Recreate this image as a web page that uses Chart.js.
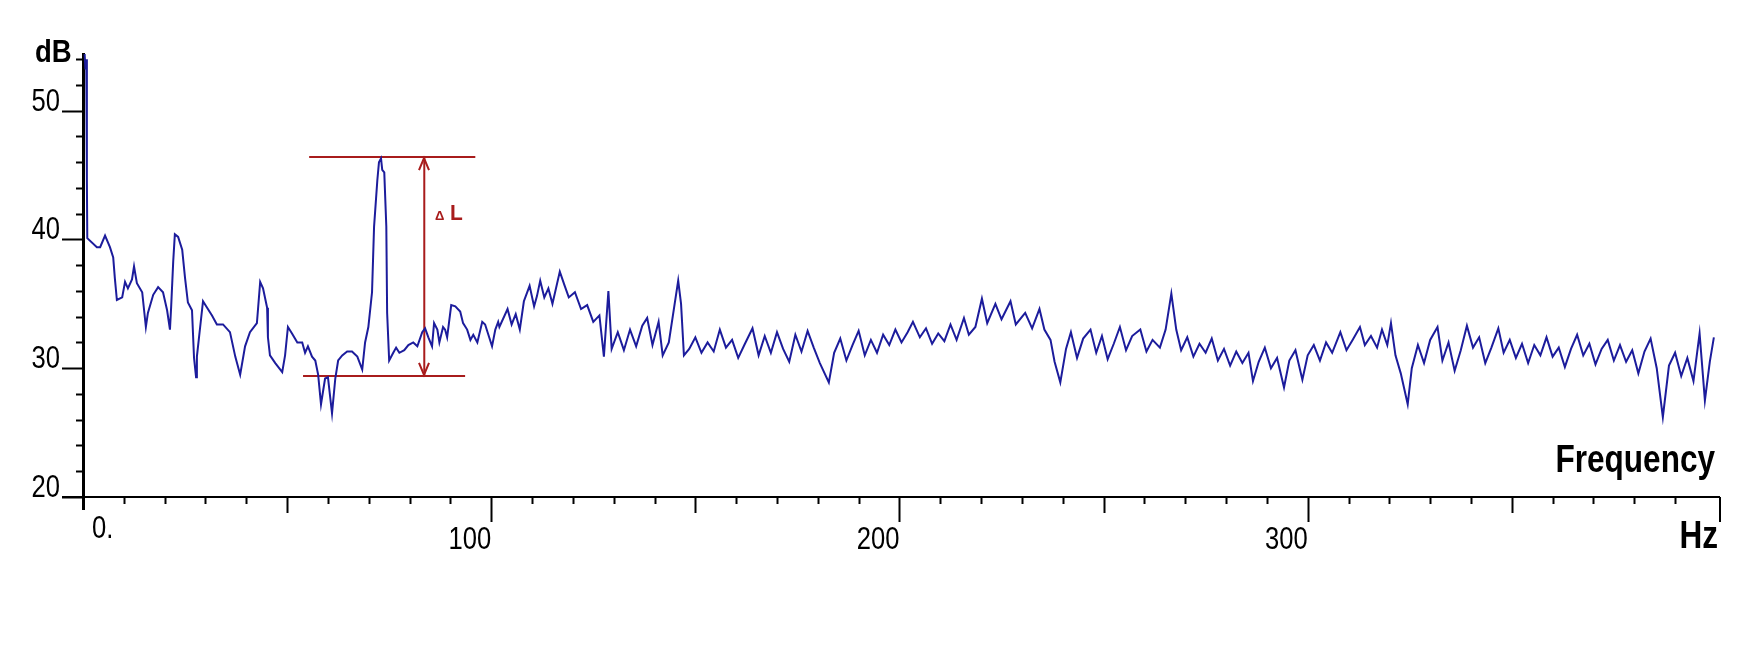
<!DOCTYPE html>
<html>
<head>
<meta charset="utf-8">
<title>Spectrum</title>
<script src="https://cdn.jsdelivr.net/npm/chart.js@4"></script>
<style>
  body { margin: 0; background: #fff; }
  canvas { display: block; }
</style>
</head>
<body>
<canvas id="spectrum" width="1737" height="651"></canvas>
<script>
// ---------- Data ----------

const freqHz = [
  0.4, 0.6, 0.8, 0.95, 1.05, 3.4, 4.2, 5.4, 6.6, 7.4, 7.8, 8.3, 9.6, 10.3, 11.0, 12.0, 12.5, 13.2, 14.5, 15.4,
  15.9, 17.2, 18.4, 19.6, 20.6, 21.3, 21.6, 22.1, 22.5, 23.3, 24.3, 25.0, 25.7, 26.7, 27.2, 27.7, 27.9, 28.7, 29.4, 30.4,
  31.6, 32.8, 34.3, 36.0, 37.3, 38.5, 39.7, 40.9, 42.6, 43.4, 44.1, 45.1, 45.3, 45.8, 47.1, 48.8, 49.5, 50.2, 51.2, 52.5,
  53.7, 54.4, 55.1, 56.1, 56.9, 57.6, 58.3, 59.3, 60.0, 61.0, 61.8, 62.5, 63.5, 64.7, 65.9, 67.2, 68.4, 69.1, 69.9, 70.8,
  71.3, 72.1, 72.5, 73.0, 73.3, 73.8, 74.3, 74.5, 75.0, 76.0, 76.7, 77.5, 78.7, 79.7, 80.9, 81.9, 83.1, 83.8, 84.6, 85.5,
  86.0, 86.8, 87.3, 88.2, 88.7, 89.2, 90.2, 91.2, 92.4, 93.1, 94.1, 94.9, 95.6, 96.6, 97.8, 98.5, 99.3, 100.2, 101.0, 101.7,
  102, 104, 105, 106, 107, 108, 109.4, 110.5, 111.2, 112, 113, 114, 115, 116.8, 118, 119, 120.5, 122, 123.5, 125,
  126.5, 127.6, 128.7, 129.5, 131, 132.5, 134, 135.5, 137, 138.2, 139.5, 141, 142, 143.5, 145.8, 146.5, 147.2, 148.5, 150, 151.5,
  153, 154.5, 156, 157.5, 159, 160.5, 162, 164, 165.5, 167, 168.5, 170, 171.5, 173, 174.5, 176, 177.5, 179, 180.5, 182.7,
  184, 185.5, 187, 188.5, 190, 191.5, 193, 194.5, 196, 197.5, 199, 200.5, 202, 203.3, 205, 206.5, 208, 209.5, 211, 212.5,
  214, 215.8, 217, 218.6, 220.2, 221.5, 223.5, 225, 227.2, 228.5, 230.8, 232.5, 234.3, 235.5, 237, 238, 239.4, 240.8, 242, 243.5,
  245, 246.8, 248.2, 249.6, 251, 252.5, 254, 255.5, 257, 259, 260.5, 262, 263.8, 265.2, 266.6, 267.8, 269, 270.5, 272, 273.5,
  275, 276.5, 278, 279.5, 281, 282.5, 284, 285.5, 286.6, 288, 289.5, 291, 292.5, 294.2, 295.5, 297, 298.7, 300, 301.5, 303,
  304.5, 306, 308, 309.5, 311, 312.8, 314, 315.5, 317, 318.2, 319.5, 320.4, 321.5, 322.8, 324.5, 325.5, 327, 328.5, 330, 331.8,
  333, 334.5, 336, 337.5, 339, 340.5, 342, 343.5, 345, 346.7, 348, 349.5, 351, 352.5, 354, 355.5, 357, 358.5, 360, 361.5,
  363, 364.5, 366, 367.5, 369, 370.5, 372, 373.5, 375, 376.5, 378, 379.5, 381, 382.5, 384, 385.5, 387, 388.5, 390, 391.5,
  393, 394.5, 396, 397.3, 398.5, 399.5
];

const levelDb = [
  54.4, 53.2, 54.0, 44.6, 40.1, 39.4, 39.4, 40.3, 39.4, 38.6, 37.0, 35.3, 35.5, 36.7, 36.2, 36.9, 37.9, 36.6, 35.9, 33.2,
  34.3, 35.7, 36.3, 35.9, 34.5, 33.0, 34.8, 38.3, 40.4, 40.2, 39.2, 37.0, 35.1, 34.5, 30.8, 29.3, 30.9, 33.2, 35.2, 34.7,
  34.1, 33.4, 33.4, 32.8, 30.9, 29.5, 31.7, 32.8, 33.5, 36.7, 36.2, 34.7, 32.4, 31.0, 30.4, 29.7, 31.0, 33.2, 32.7, 32.0,
  32.0, 31.2, 31.7, 30.9, 30.6, 29.5, 27.2, 29.2, 29.3, 26.5, 29.2, 30.6, 31.0, 31.3, 31.3, 30.9, 29.9, 32.0, 33.2, 35.9,
  41.0, 44.6, 46.0, 46.3, 45.4, 45.2, 41.0, 34.3, 30.6, 31.2, 31.6, 31.2, 31.4, 31.8, 32.0, 31.7, 32.8, 33.1, 32.4, 31.7,
  33.5, 33.0, 32.0, 33.2, 33.0, 32.4, 34.9, 34.8, 34.4, 33.5, 33.0, 32.2, 32.6, 32.0, 33.6, 33.4, 32.6, 31.7, 33.0, 33.6,
  33.2, 34.6, 33.4, 34.2, 33.0, 35.2, 36.4, 34.8, 35.6, 36.8, 35.5, 36.2, 35.0, 37.5, 36.4, 35.5, 35.9, 34.6, 34.9, 33.6,
  34.1, 30.9, 36.0, 31.5, 32.8, 31.4, 33.0, 31.7, 33.3, 33.9, 31.8, 33.6, 31.0, 32.0, 36.8, 35.0, 31.0, 31.5, 32.4, 31.2,
  32.0, 31.3, 33.0, 31.6, 32.2, 30.8, 31.8, 33.1, 31.0, 32.5, 31.2, 32.8, 31.5, 30.5, 32.6, 31.3, 32.9, 31.6, 30.4, 28.9,
  31.2, 32.3, 30.6, 31.8, 32.9, 31.0, 32.2, 31.2, 32.6, 31.8, 33.0, 32.0, 32.8, 33.6, 32.4, 33.1, 31.9, 32.7, 32.1, 33.4,
  32.2, 33.9, 32.6, 33.2, 35.4, 33.5, 35.0, 33.8, 35.2, 33.4, 34.3, 33.1, 34.6, 33.0, 32.2, 30.5, 28.9, 31.5, 32.8, 30.8,
  32.3, 33.0, 31.2, 32.5, 30.7, 31.9, 33.2, 31.4, 32.5, 33.0, 31.3, 32.2, 31.6, 33.0, 35.8, 33.0, 31.4, 32.4, 30.9, 31.9,
  31.2, 32.3, 30.6, 31.5, 30.2, 31.3, 30.4, 31.2, 29.0, 30.5, 31.6, 30.0, 30.8, 28.5, 30.6, 31.4, 29.1, 31.0, 31.8, 30.6,
  32.0, 31.2, 32.8, 31.4, 32.2, 33.2, 31.8, 32.5, 31.6, 33.0, 31.8, 33.5, 31.0, 29.6, 27.2, 30.0, 31.8, 30.4, 32.2, 33.2,
  30.6, 32.0, 29.8, 31.4, 33.3, 31.6, 32.4, 30.4, 31.6, 33.1, 31.2, 32.2, 30.8, 31.9, 30.4, 31.8, 31.0, 32.4, 30.9, 31.6,
  30.1, 31.5, 32.6, 31.0, 31.9, 30.3, 31.5, 32.2, 30.6, 31.8, 30.5, 31.4, 29.6, 31.3, 32.3, 30.0, 26.2, 30.2, 31.2, 29.4,
  30.8, 29.0, 32.7, 27.5, 30.5, 32.4
];

// Delta L markers: peak level, floor level
const deltaLevels = [46.4, 29.4];
const deltaTopSpanHz = [55.4, 96.1];
const deltaBottomSpanHz = [53.9, 93.6];
const deltaArrowHz = 83.6;

// Axes
const xRange = [0, 401];
const yRange = [20, 54.4];
const xMajorTicks = [0, 100, 200, 300];
const xTickLabels = ['0.', '100', '200', '300'];
const yMajorTicks = [20, 30, 40, 50];
const yTickLabels = ['20', '30', '40', '50'];

const INK = '#000';
const BLUE = '#1c1c9c';
const RED = '#a81c1c';
const SANS = "'Liberation Sans', Arial, sans-serif";

// narrow text: the old analyser font is condensed, so squeeze Liberation Sans
function narrowText(ctx, text, x, y, font, align, squeeze) {
  ctx.save();
  ctx.font = font;
  ctx.textAlign = align;
  ctx.textBaseline = 'alphabetic';
  ctx.translate(x, y);
  ctx.scale(squeeze, 1);
  ctx.fillText(text, 0, 0);
  ctx.restore();
}

// ---------- Axis drawing in the old analyser style ----------

const oldAxes = {
  id: 'oldAxes',
  beforeDatasetsDraw(chart) {
    const { ctx, scales: { x, y } } = chart;
    const x0 = x.getPixelForValue(xRange[0]);
    const xEnd = x.getPixelForValue(xRange[1]);
    const yBase = y.getPixelForValue(yRange[0]);
    const yTop = y.getPixelForValue(yRange[1]);

    ctx.save();
    ctx.strokeStyle = INK;
    ctx.fillStyle = INK;

    // y axis line
    ctx.lineWidth = 3;
    ctx.beginPath();
    ctx.moveTo(x0 + 0.5, yTop - 1);
    ctx.lineTo(x0 + 0.5, yBase + 13);
    ctx.stroke();

    // x axis line
    ctx.lineWidth = 2;
    ctx.beginPath();
    ctx.moveTo(x0 - 21, yBase);
    ctx.lineTo(xEnd, yBase);
    ctx.stroke();

    // y ticks every 2 dB
    for (let v = 22; v <= 54; v += 2) {
      if (v % 10 === 0) continue;
      const py = Math.round(y.getPixelForValue(v)) + 0.5;
      ctx.beginPath();
      ctx.moveTo(x0 - 7, py);
      ctx.lineTo(x0, py);
      ctx.stroke();
    }
    yMajorTicks.forEach((v, i) => {
      const py = Math.round(y.getPixelForValue(v)) + 0.5;
      ctx.beginPath();
      ctx.moveTo(x0 - 21, py);
      ctx.lineTo(x0, py);
      ctx.stroke();
      narrowText(ctx, yTickLabels[i], x0 - 23, py - 1, '32px ' + SANS, 'right', 0.8);
    });
    narrowText(ctx, 'dB', 35, y.getPixelForValue(54) + 3, 'bold 32px ' + SANS, 'left', 0.86);

    // x ticks every 10 Hz, longer at 50 and 100
    for (let f = 10; f <= 390; f += 10) {
      const px = Math.round(x.getPixelForValue(f)) + 0.5;
      const len = f % 100 === 0 ? 25 : (f % 50 === 0 ? 16 : 7);
      ctx.beginPath();
      ctx.moveTo(px, yBase);
      ctx.lineTo(px, yBase + len);
      ctx.stroke();
    }
    ctx.beginPath();
    ctx.moveTo(xEnd, yBase);
    ctx.lineTo(xEnd, yBase + 25);
    ctx.stroke();

    xMajorTicks.forEach((f, i) => {
      const px = x.getPixelForValue(f);
      if (f === 0) {
        narrowText(ctx, xTickLabels[i], px + 9, yBase + 41, '32px ' + SANS, 'left', 0.8);
      } else {
        narrowText(ctx, xTickLabels[i], px, yBase + 52, '32px ' + SANS, 'right', 0.8);
      }
    });

    narrowText(ctx, 'Frequency', 1715, 472, 'bold 38px ' + SANS, 'right', 0.83);
    narrowText(ctx, 'Hz', 1718, 548, 'bold 38px ' + SANS, 'right', 0.83);
    ctx.restore();
  },
  afterDatasetsDraw(chart) {
    const { ctx, scales: { x, y } } = chart;
    const ax = Math.round(x.getPixelForValue(deltaArrowHz));
    const top = y.getPixelForValue(deltaLevels[0]);
    const bot = y.getPixelForValue(deltaLevels[1]);
    ctx.save();
    ctx.strokeStyle = RED;
    ctx.fillStyle = RED;
    ctx.lineWidth = 2;
    // arrow heads
    ctx.beginPath();
    ctx.moveTo(ax - 5, top + 13);
    ctx.lineTo(ax, top + 1);
    ctx.lineTo(ax + 5, top + 13);
    ctx.moveTo(ax - 5, bot - 13);
    ctx.lineTo(ax, bot - 1);
    ctx.lineTo(ax + 5, bot - 13);
    ctx.stroke();
    // delta L label
    narrowText(ctx, '\u0394', ax + 11, 220, 'bold 13px ' + SANS, 'left', 1);
    narrowText(ctx, 'L', ax + 26, 220, 'bold 22px ' + SANS, 'left', 0.95);
    ctx.restore();
  }
};

// ---------- Chart ----------

const spectrum = freqHz.map((f, i) => ({ x: f, y: levelDb[i] }));
const lineStyle = { borderColor: RED, borderWidth: 2, pointRadius: 0, fill: false };

new Chart(document.getElementById('spectrum'), {
  type: 'line',
  data: {
    datasets: [
      { data: spectrum, borderColor: BLUE, borderWidth: 2, pointRadius: 0, tension: 0, fill: false },
      Object.assign({ data: deltaTopSpanHz.map(f => ({ x: f, y: deltaLevels[0] })) }, lineStyle),
      Object.assign({ data: deltaBottomSpanHz.map(f => ({ x: f, y: deltaLevels[1] })) }, lineStyle),
      Object.assign({ data: deltaLevels.map(v => ({ x: deltaArrowHz, y: v })) }, lineStyle)
    ]
  },
  options: {
    responsive: false,
    animation: false,
    layout: { padding: { left: 83, right: 17, top: 54, bottom: 154 } },
    scales: {
      x: { type: 'linear', min: xRange[0], max: xRange[1], display: false },
      y: { type: 'linear', min: yRange[0], max: yRange[1], display: false }
    },
    plugins: { legend: { display: false }, tooltip: { enabled: false } }
  },
  plugins: [oldAxes]
});
</script>
</body>
</html>
